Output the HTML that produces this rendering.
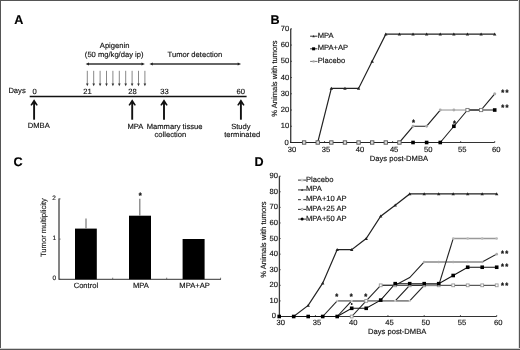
<!DOCTYPE html>
<html><head><meta charset="utf-8"><title>Figure</title>
<style>
html,body{margin:0;padding:0;background:#fff;}
body{width:520px;height:350px;overflow:hidden;}
svg{display:block;}
text{font-family:"Liberation Sans", Arial, sans-serif;stroke:#111;stroke-width:0.15px;text-rendering:geometricPrecision;}
</style></head>
<body>
<svg width="520" height="350" viewBox="0 0 520 350">
<rect x="0" y="0" width="520" height="350" fill="#fff"/>
<text x="14.20" y="23.80" font-size="12.6" text-anchor="start" font-weight="bold" fill="#000" >A</text>
<text x="8.40" y="92.70" font-size="7.6" text-anchor="start" font-weight="normal" fill="#111" >Days</text>
<text x="34.50" y="93.50" font-size="7.6" text-anchor="middle" font-weight="normal" fill="#111" >0</text>
<text x="87.50" y="93.50" font-size="7.6" text-anchor="middle" font-weight="normal" fill="#111" >21</text>
<text x="132.60" y="93.50" font-size="7.6" text-anchor="middle" font-weight="normal" fill="#111" >28</text>
<text x="164.40" y="93.50" font-size="7.6" text-anchor="middle" font-weight="normal" fill="#111" >33</text>
<text x="240.70" y="93.50" font-size="7.6" text-anchor="middle" font-weight="normal" fill="#111" >60</text>
<line x1="29.70" y1="96.60" x2="246.60" y2="96.60" stroke="#111" stroke-width="1.5" />
<line x1="34.10" y1="102.30" x2="34.10" y2="119.70" stroke="#111" stroke-width="1.9" />
<path d="M34.10,99.30 L37.80,104.90 L36.70,105.70 L34.10,102.90 L31.50,105.70 L30.40,104.90 Z" fill="#111"/>
<line x1="132.20" y1="102.30" x2="132.20" y2="119.70" stroke="#111" stroke-width="1.9" />
<path d="M132.20,99.30 L135.90,104.90 L134.80,105.70 L132.20,102.90 L129.60,105.70 L128.50,104.90 Z" fill="#111"/>
<line x1="164.00" y1="102.30" x2="164.00" y2="119.70" stroke="#111" stroke-width="1.9" />
<path d="M164.00,99.30 L167.70,104.90 L166.60,105.70 L164.00,102.90 L161.40,105.70 L160.30,104.90 Z" fill="#111"/>
<line x1="240.90" y1="102.30" x2="240.90" y2="119.70" stroke="#111" stroke-width="1.9" />
<path d="M240.90,99.30 L244.60,104.90 L243.50,105.70 L240.90,102.90 L238.30,105.70 L237.20,104.90 Z" fill="#111"/>
<text x="38.80" y="128.40" font-size="7.6" text-anchor="middle" font-weight="normal" fill="#111" >DMBA</text>
<text x="135.50" y="128.60" font-size="7.6" text-anchor="middle" font-weight="normal" fill="#111" >MPA</text>
<text x="174.60" y="128.60" font-size="7.6" text-anchor="middle" font-weight="normal" fill="#111" >Mammary tissue</text>
<text x="170.40" y="136.50" font-size="7.6" text-anchor="middle" font-weight="normal" fill="#111" >collection</text>
<text x="240.90" y="128.60" font-size="7.6" text-anchor="middle" font-weight="normal" fill="#111" >Study</text>
<text x="242.20" y="136.80" font-size="7.6" text-anchor="middle" font-weight="normal" fill="#111" >terminated</text>
<text x="114.60" y="48.20" font-size="7.6" text-anchor="middle" font-weight="normal" fill="#111" >Apigenin</text>
<text x="114.20" y="56.70" font-size="7.6" text-anchor="middle" font-weight="normal" fill="#111" >(50 mg/kg/day ip)</text>
<text x="194.90" y="56.70" font-size="7.6" text-anchor="middle" font-weight="normal" fill="#111" >Tumor detection</text>
<line x1="87.60" y1="64.00" x2="142.90" y2="64.00" stroke="#333" stroke-width="1.3" />
<path d="M85.60,64.00 L89.00,62.40 L89.00,65.60 Z" fill="#222"/>
<path d="M144.90,64.00 L141.50,62.40 L141.50,65.60 Z" fill="#222"/>
<line x1="151.40" y1="64.00" x2="239.10" y2="64.00" stroke="#333" stroke-width="1.3" />
<path d="M149.40,64.00 L152.80,62.40 L152.80,65.60 Z" fill="#222"/>
<path d="M241.10,64.00 L237.70,62.40 L237.70,65.60 Z" fill="#222"/>
<line x1="87.30" y1="70.80" x2="87.30" y2="84.50" stroke="#888" stroke-width="1.0" />
<path d="M86.00,83.40 L87.30,86.30 L88.60,83.40 Z" fill="#333"/>
<line x1="93.70" y1="70.80" x2="93.70" y2="84.50" stroke="#888" stroke-width="1.0" />
<path d="M92.40,83.40 L93.70,86.30 L95.00,83.40 Z" fill="#333"/>
<line x1="100.10" y1="70.80" x2="100.10" y2="84.50" stroke="#888" stroke-width="1.0" />
<path d="M98.80,83.40 L100.10,86.30 L101.40,83.40 Z" fill="#333"/>
<line x1="106.50" y1="70.80" x2="106.50" y2="84.50" stroke="#888" stroke-width="1.0" />
<path d="M105.20,83.40 L106.50,86.30 L107.80,83.40 Z" fill="#333"/>
<line x1="112.90" y1="70.80" x2="112.90" y2="84.50" stroke="#888" stroke-width="1.0" />
<path d="M111.60,83.40 L112.90,86.30 L114.20,83.40 Z" fill="#333"/>
<line x1="119.30" y1="70.80" x2="119.30" y2="84.50" stroke="#888" stroke-width="1.0" />
<path d="M118.00,83.40 L119.30,86.30 L120.60,83.40 Z" fill="#333"/>
<line x1="125.70" y1="70.80" x2="125.70" y2="84.50" stroke="#888" stroke-width="1.0" />
<path d="M124.40,83.40 L125.70,86.30 L127.00,83.40 Z" fill="#333"/>
<line x1="132.10" y1="70.80" x2="132.10" y2="84.50" stroke="#888" stroke-width="1.0" />
<path d="M130.80,83.40 L132.10,86.30 L133.40,83.40 Z" fill="#333"/>
<line x1="138.50" y1="70.80" x2="138.50" y2="84.50" stroke="#888" stroke-width="1.0" />
<path d="M137.20,83.40 L138.50,86.30 L139.80,83.40 Z" fill="#333"/>
<line x1="144.90" y1="70.80" x2="144.90" y2="84.50" stroke="#888" stroke-width="1.0" />
<path d="M143.60,83.40 L144.90,86.30 L146.20,83.40 Z" fill="#333"/>
<text x="13.60" y="165.50" font-size="12.6" text-anchor="start" font-weight="bold" fill="#000" >C</text>
<line x1="59.00" y1="198.40" x2="59.00" y2="279.80" stroke="#777" stroke-width="1.8" />
<line x1="59.00" y1="279.30" x2="221.00" y2="279.30" stroke="#333" stroke-width="1" />
<line x1="59.00" y1="279.30" x2="60.60" y2="279.30" stroke="#555" stroke-width="0.8" />
<line x1="59.00" y1="239.10" x2="60.60" y2="239.10" stroke="#555" stroke-width="0.8" />
<line x1="59.00" y1="198.90" x2="60.60" y2="198.90" stroke="#555" stroke-width="0.8" />
<line x1="112.70" y1="279.30" x2="112.70" y2="277.70" stroke="#555" stroke-width="0.8" />
<line x1="166.70" y1="279.30" x2="166.70" y2="277.70" stroke="#555" stroke-width="0.8" />
<line x1="220.60" y1="279.30" x2="220.60" y2="277.70" stroke="#555" stroke-width="0.8" />
<text x="54.10" y="200.30" font-size="6.5" text-anchor="middle" font-weight="normal" fill="#222" >2</text>
<text x="54.30" y="240.10" font-size="6.5" text-anchor="middle" font-weight="normal" fill="#222" >1</text>
<text x="54.20" y="280.30" font-size="6.5" text-anchor="middle" font-weight="normal" fill="#222" >0</text>
<rect x="75.00" y="228.60" width="21.80" height="50.70" fill="#000" />
<rect x="129.00" y="215.70" width="22.00" height="63.60" fill="#000" />
<rect x="182.60" y="239.00" width="22.00" height="40.30" fill="#000" />
<line x1="86.00" y1="218.60" x2="86.00" y2="228.60" stroke="#777" stroke-width="1.2" />
<line x1="139.80" y1="198.80" x2="139.80" y2="215.70" stroke="#777" stroke-width="1.2" />
<text x="140.24" y="197.60" font-size="7.6" font-weight="bold" text-anchor="middle" fill="#111" style="stroke-width:0.35px">*</text>
<text x="85.90" y="288.30" font-size="7.6" text-anchor="middle" font-weight="normal" fill="#111" >Control</text>
<text x="140.90" y="288.20" font-size="7.6" text-anchor="middle" font-weight="normal" fill="#111" >MPA</text>
<text x="194.60" y="288.20" font-size="7.6" text-anchor="middle" font-weight="normal" fill="#111" >MPA+AP</text>
<text x="0.00" y="0.00" font-size="7.6" text-anchor="middle" font-weight="normal" fill="#222" style="stroke-width:0.12px" transform="translate(46.4,227.6) rotate(-90)">Tumor multiplicity</text>
<text x="270.60" y="23.80" font-size="12.6" text-anchor="start" font-weight="bold" fill="#000" >B</text>
<line x1="290.70" y1="28.80" x2="290.70" y2="143.00" stroke="#444" stroke-width="1.4" />
<line x1="290.50" y1="142.50" x2="494.71" y2="142.50" stroke="#333" stroke-width="1" />
<line x1="290.50" y1="142.50" x2="292.00" y2="142.50" stroke="#333" stroke-width="0.8" />
<text x="288.70" y="144.60" font-size="7.6" text-anchor="end" font-weight="normal" fill="#111" >0</text>
<line x1="290.50" y1="126.26" x2="292.00" y2="126.26" stroke="#333" stroke-width="0.8" />
<text x="289.20" y="128.36" font-size="7.6" text-anchor="end" font-weight="normal" fill="#111" >10</text>
<line x1="290.50" y1="110.02" x2="292.00" y2="110.02" stroke="#333" stroke-width="0.8" />
<text x="289.20" y="112.12" font-size="7.6" text-anchor="end" font-weight="normal" fill="#111" >20</text>
<line x1="290.50" y1="93.78" x2="292.00" y2="93.78" stroke="#333" stroke-width="0.8" />
<text x="289.20" y="95.88" font-size="7.6" text-anchor="end" font-weight="normal" fill="#111" >30</text>
<line x1="290.50" y1="77.54" x2="292.00" y2="77.54" stroke="#333" stroke-width="0.8" />
<text x="289.20" y="79.64" font-size="7.6" text-anchor="end" font-weight="normal" fill="#111" >40</text>
<line x1="290.50" y1="61.30" x2="292.00" y2="61.30" stroke="#333" stroke-width="0.8" />
<text x="289.20" y="63.40" font-size="7.6" text-anchor="end" font-weight="normal" fill="#111" >50</text>
<line x1="290.50" y1="45.06" x2="292.00" y2="45.06" stroke="#333" stroke-width="0.8" />
<text x="289.20" y="47.16" font-size="7.6" text-anchor="end" font-weight="normal" fill="#111" >60</text>
<line x1="290.50" y1="28.82" x2="292.00" y2="28.82" stroke="#333" stroke-width="0.8" />
<text x="289.20" y="30.92" font-size="7.6" text-anchor="end" font-weight="normal" fill="#111" >70</text>
<line x1="290.50" y1="142.50" x2="290.50" y2="141.00" stroke="#333" stroke-width="0.8" />
<text x="292.00" y="151.60" font-size="7.6" text-anchor="middle" font-weight="normal" fill="#111" >30</text>
<line x1="324.54" y1="142.50" x2="324.54" y2="141.00" stroke="#333" stroke-width="0.8" />
<text x="326.04" y="151.60" font-size="7.6" text-anchor="middle" font-weight="normal" fill="#111" >35</text>
<line x1="358.57" y1="142.50" x2="358.57" y2="141.00" stroke="#333" stroke-width="0.8" />
<text x="360.07" y="151.60" font-size="7.6" text-anchor="middle" font-weight="normal" fill="#111" >40</text>
<line x1="392.61" y1="142.50" x2="392.61" y2="141.00" stroke="#333" stroke-width="0.8" />
<text x="394.11" y="151.60" font-size="7.6" text-anchor="middle" font-weight="normal" fill="#111" >45</text>
<line x1="426.64" y1="142.50" x2="426.64" y2="141.00" stroke="#333" stroke-width="0.8" />
<text x="428.14" y="151.60" font-size="7.6" text-anchor="middle" font-weight="normal" fill="#111" >50</text>
<line x1="460.68" y1="142.50" x2="460.68" y2="141.00" stroke="#333" stroke-width="0.8" />
<text x="462.18" y="151.60" font-size="7.6" text-anchor="middle" font-weight="normal" fill="#111" >55</text>
<line x1="494.71" y1="142.50" x2="494.71" y2="141.00" stroke="#333" stroke-width="0.8" />
<text x="496.21" y="151.60" font-size="7.6" text-anchor="middle" font-weight="normal" fill="#111" >60</text>
<text x="398.90" y="160.80" font-size="7.6" text-anchor="middle" font-weight="normal" fill="#111" >Days post-DMBA</text>
<text x="0.00" y="0.00" font-size="7.6" text-anchor="middle" font-weight="normal" fill="#111" transform="translate(277.4,78.6) rotate(-90)">% Animals with tumors</text>
<polyline points="290.50,142.50 304.11,142.50 317.73,142.50 331.34,142.50 344.96,142.50 358.57,142.50 372.18,142.50 385.80,142.50 399.41,142.50 413.03,126.26 426.64,126.26 440.25,110.02" fill="none" stroke="#222" stroke-width="1.2" stroke-linejoin="miter" />
<polyline points="440.25,110.02 453.87,110.02 467.48,110.02" fill="none" stroke="#999" stroke-width="1.1" stroke-linejoin="miter" />
<polyline points="467.48,110.02 481.10,110.02 494.71,93.78" fill="none" stroke="#222" stroke-width="1.2" stroke-linejoin="miter" />
<polyline points="399.41,142.50 413.03,142.50 426.64,142.50 440.25,142.50 453.87,126.26 467.48,110.02 481.10,110.02 494.71,110.02" fill="none" stroke="#222" stroke-width="1.1" stroke-linejoin="miter" />
<polyline points="290.50,142.50 304.11,142.50 317.73,142.50 331.34,88.42 344.96,88.42 358.57,88.42 372.18,61.30 385.80,34.18 399.41,34.18 413.03,34.18 426.64,34.18 440.25,34.18 453.87,34.18 467.48,34.18 481.10,34.18 494.71,34.18" fill="none" stroke="#222" stroke-width="1.2" stroke-linejoin="miter" />
<path d="M316.03,143.86 L317.73,140.80 L319.43,143.86 Z" fill="#222"/>
<path d="M329.64,89.78 L331.34,86.72 L333.04,89.78 Z" fill="#222"/>
<path d="M343.26,89.78 L344.96,86.72 L346.66,89.78 Z" fill="#222"/>
<path d="M356.87,89.78 L358.57,86.72 L360.27,89.78 Z" fill="#222"/>
<path d="M370.48,62.66 L372.18,59.60 L373.88,62.66 Z" fill="#222"/>
<path d="M384.10,35.54 L385.80,32.48 L387.50,35.54 Z" fill="#222"/>
<path d="M397.71,35.54 L399.41,32.48 L401.11,35.54 Z" fill="#222"/>
<path d="M411.33,35.54 L413.03,32.48 L414.73,35.54 Z" fill="#222"/>
<path d="M424.94,35.54 L426.64,32.48 L428.34,35.54 Z" fill="#222"/>
<path d="M438.55,35.54 L440.25,32.48 L441.95,35.54 Z" fill="#222"/>
<path d="M452.17,35.54 L453.87,32.48 L455.57,35.54 Z" fill="#222"/>
<path d="M465.78,35.54 L467.48,32.48 L469.18,35.54 Z" fill="#222"/>
<path d="M479.40,35.54 L481.10,32.48 L482.80,35.54 Z" fill="#222"/>
<path d="M493.01,35.54 L494.71,32.48 L496.41,35.54 Z" fill="#222"/>
<rect x="302.41" y="140.80" width="3.4" height="3.4" fill="#ddd" stroke="#555" stroke-width="0.9"/>
<rect x="316.03" y="140.80" width="3.4" height="3.4" fill="#ddd" stroke="#555" stroke-width="0.9"/>
<rect x="329.64" y="140.80" width="3.4" height="3.4" fill="#ddd" stroke="#555" stroke-width="0.9"/>
<rect x="343.26" y="140.80" width="3.4" height="3.4" fill="#ddd" stroke="#555" stroke-width="0.9"/>
<rect x="356.87" y="140.80" width="3.4" height="3.4" fill="#ddd" stroke="#555" stroke-width="0.9"/>
<rect x="370.48" y="140.80" width="3.4" height="3.4" fill="#ddd" stroke="#555" stroke-width="0.9"/>
<rect x="384.10" y="140.80" width="3.4" height="3.4" fill="#ddd" stroke="#555" stroke-width="0.9"/>
<rect x="397.71" y="140.80" width="3.4" height="3.4" fill="#ddd" stroke="#555" stroke-width="0.9"/>
<circle cx="413.03" cy="126.26" r="1.4" fill="#aaa"/>
<circle cx="426.64" cy="126.26" r="1.4" fill="#aaa"/>
<circle cx="440.25" cy="110.02" r="1.4" fill="#aaa"/>
<circle cx="453.87" cy="110.02" r="1.4" fill="#aaa"/>
<rect x="465.88" y="108.42" width="3.20" height="3.20" fill="#fff" stroke="#777" stroke-width="0.9"/>
<rect x="479.50" y="108.42" width="3.20" height="3.20" fill="#fff" stroke="#777" stroke-width="0.9"/>
<circle cx="494.71" cy="93.78" r="1.5" fill="#aaa"/>
<rect x="411.23" y="140.70" width="3.60" height="3.60" fill="#000" />
<rect x="424.84" y="140.70" width="3.60" height="3.60" fill="#000" />
<rect x="438.45" y="140.70" width="3.60" height="3.60" fill="#000" />
<rect x="452.07" y="124.46" width="3.60" height="3.60" fill="#000" />
<rect x="492.91" y="108.22" width="3.60" height="3.60" fill="#000" />
<text x="413.57" y="125.40" font-size="7.6" font-weight="bold" text-anchor="middle" fill="#111" style="stroke-width:0.35px">*</text>
<text x="454.41" y="125.50" font-size="7.6" font-weight="bold" text-anchor="middle" fill="#111" style="stroke-width:0.35px">*</text>
<text x="502.74" y="95.30" font-size="7.6" font-weight="bold" text-anchor="middle" fill="#111" style="stroke-width:0.35px">*</text>
<text x="506.94" y="95.30" font-size="7.6" font-weight="bold" text-anchor="middle" fill="#111" style="stroke-width:0.35px">*</text>
<text x="502.74" y="110.40" font-size="7.6" font-weight="bold" text-anchor="middle" fill="#111" style="stroke-width:0.35px">*</text>
<text x="506.94" y="110.40" font-size="7.6" font-weight="bold" text-anchor="middle" fill="#111" style="stroke-width:0.35px">*</text>
<line x1="310.10" y1="36.20" x2="317.40" y2="36.20" stroke="#333" stroke-width="1.0" />
<text x="317.70" y="37.55" font-size="7.6" text-anchor="start" font-weight="normal" fill="#111" >MPA</text>
<line x1="310.10" y1="48.80" x2="317.40" y2="48.80" stroke="#333" stroke-width="1.0" />
<text x="317.70" y="50.15" font-size="7.6" text-anchor="start" font-weight="normal" fill="#111" >MPA+AP</text>
<line x1="310.10" y1="61.40" x2="317.40" y2="61.40" stroke="#777" stroke-width="1.0" />
<text x="317.70" y="62.75" font-size="7.6" text-anchor="start" font-weight="normal" fill="#111" >Placebo</text>
<path d="M312.40,37.16 L313.60,35.00 L314.80,37.16 Z" fill="#222"/>
<rect x="312.10" y="47.30" width="3.00" height="3.00" fill="#000" />
<circle cx="313.60" cy="61.40" r="1.2" fill="#aaa"/>
<text x="254.40" y="165.50" font-size="12.6" text-anchor="start" font-weight="bold" fill="#000" >D</text>
<line x1="279.40" y1="176.20" x2="279.40" y2="317.00" stroke="#3a3a3a" stroke-width="1.3" />
<line x1="279.20" y1="316.50" x2="496.70" y2="316.50" stroke="#333" stroke-width="1" />
<line x1="279.20" y1="316.50" x2="280.70" y2="316.50" stroke="#333" stroke-width="0.8" />
<text x="276.10" y="317.90" font-size="7.6" text-anchor="end" font-weight="normal" fill="#111" >0</text>
<line x1="279.20" y1="300.91" x2="280.70" y2="300.91" stroke="#333" stroke-width="0.8" />
<text x="277.90" y="303.01" font-size="7.6" text-anchor="end" font-weight="normal" fill="#111" >10</text>
<line x1="279.20" y1="285.32" x2="280.70" y2="285.32" stroke="#333" stroke-width="0.8" />
<text x="277.90" y="287.42" font-size="7.6" text-anchor="end" font-weight="normal" fill="#111" >20</text>
<line x1="279.20" y1="269.73" x2="280.70" y2="269.73" stroke="#333" stroke-width="0.8" />
<text x="277.90" y="271.83" font-size="7.6" text-anchor="end" font-weight="normal" fill="#111" >30</text>
<line x1="279.20" y1="254.14" x2="280.70" y2="254.14" stroke="#333" stroke-width="0.8" />
<text x="277.90" y="256.24" font-size="7.6" text-anchor="end" font-weight="normal" fill="#111" >40</text>
<line x1="279.20" y1="238.55" x2="280.70" y2="238.55" stroke="#333" stroke-width="0.8" />
<text x="277.90" y="240.65" font-size="7.6" text-anchor="end" font-weight="normal" fill="#111" >50</text>
<line x1="279.20" y1="222.96" x2="280.70" y2="222.96" stroke="#333" stroke-width="0.8" />
<text x="277.90" y="225.06" font-size="7.6" text-anchor="end" font-weight="normal" fill="#111" >60</text>
<line x1="279.20" y1="207.37" x2="280.70" y2="207.37" stroke="#333" stroke-width="0.8" />
<text x="277.90" y="209.47" font-size="7.6" text-anchor="end" font-weight="normal" fill="#111" >70</text>
<line x1="279.20" y1="191.78" x2="280.70" y2="191.78" stroke="#333" stroke-width="0.8" />
<text x="277.90" y="193.88" font-size="7.6" text-anchor="end" font-weight="normal" fill="#111" >80</text>
<line x1="279.20" y1="176.19" x2="280.70" y2="176.19" stroke="#333" stroke-width="0.8" />
<text x="277.90" y="178.29" font-size="7.6" text-anchor="end" font-weight="normal" fill="#111" >90</text>
<line x1="279.20" y1="316.50" x2="279.20" y2="315.00" stroke="#333" stroke-width="0.8" />
<text x="280.70" y="325.40" font-size="7.6" text-anchor="middle" font-weight="normal" fill="#111" >30</text>
<line x1="315.45" y1="316.50" x2="315.45" y2="315.00" stroke="#333" stroke-width="0.8" />
<text x="316.95" y="325.40" font-size="7.6" text-anchor="middle" font-weight="normal" fill="#111" >35</text>
<line x1="351.70" y1="316.50" x2="351.70" y2="315.00" stroke="#333" stroke-width="0.8" />
<text x="353.20" y="325.40" font-size="7.6" text-anchor="middle" font-weight="normal" fill="#111" >40</text>
<line x1="387.95" y1="316.50" x2="387.95" y2="315.00" stroke="#333" stroke-width="0.8" />
<text x="389.45" y="325.40" font-size="7.6" text-anchor="middle" font-weight="normal" fill="#111" >45</text>
<line x1="424.20" y1="316.50" x2="424.20" y2="315.00" stroke="#333" stroke-width="0.8" />
<text x="425.70" y="325.40" font-size="7.6" text-anchor="middle" font-weight="normal" fill="#111" >50</text>
<line x1="460.45" y1="316.50" x2="460.45" y2="315.00" stroke="#333" stroke-width="0.8" />
<text x="461.95" y="325.40" font-size="7.6" text-anchor="middle" font-weight="normal" fill="#111" >55</text>
<line x1="496.70" y1="316.50" x2="496.70" y2="315.00" stroke="#333" stroke-width="0.8" />
<text x="498.20" y="325.40" font-size="7.6" text-anchor="middle" font-weight="normal" fill="#111" >60</text>
<text x="397.20" y="333.70" font-size="7.6" text-anchor="middle" font-weight="normal" fill="#111" >Days post-DMBA</text>
<text x="0.00" y="0.00" font-size="7.6" text-anchor="middle" font-weight="normal" fill="#111" transform="translate(265.9,239.6) rotate(-90)">% Animals with tumors</text>
<polyline points="337.20,316.50 351.70,300.91 366.20,300.91" fill="none" stroke="#222" stroke-width="1.1" stroke-linejoin="miter" />
<polyline points="380.70,285.32 395.20,285.32 409.70,277.52 424.20,261.94" fill="none" stroke="#222" stroke-width="1.1" stroke-linejoin="miter" />
<polyline points="424.20,261.94 438.70,261.94 453.20,261.94 467.70,261.94 482.20,261.94" fill="none" stroke="#888" stroke-width="1.5" stroke-linejoin="miter" />
<polyline points="482.20,261.94 496.70,254.14" fill="none" stroke="#222" stroke-width="1.1" stroke-linejoin="miter" />
<polyline points="351.70,316.50 366.20,300.91 380.70,285.32" fill="none" stroke="#222" stroke-width="1.1" stroke-linejoin="miter" />
<polyline points="380.70,285.32 395.20,285.32 409.70,285.32 424.20,285.32 438.70,285.32 453.20,285.32 467.70,285.32 482.20,285.32 496.70,285.32" fill="none" stroke="#333" stroke-width="1.0" stroke-linejoin="miter" />
<polyline points="395.20,300.91 409.70,285.32 424.20,285.32 438.70,285.32" fill="none" stroke="#222" stroke-width="1.1" stroke-linejoin="miter" />
<polyline points="322.70,316.50 337.20,300.91" fill="none" stroke="#222" stroke-width="1.1" stroke-linejoin="miter" />
<polyline points="409.70,300.91 424.20,285.32" fill="none" stroke="#222" stroke-width="1.1" stroke-linejoin="miter" />
<polyline points="438.70,285.32 453.20,238.55" fill="none" stroke="#222" stroke-width="1.1" stroke-linejoin="miter" />
<polyline points="337.20,300.91 351.70,300.91 366.20,300.91 380.70,300.91 395.20,300.91 409.70,300.91" fill="none" stroke="#888" stroke-width="1.7" stroke-linejoin="miter" />
<polyline points="424.20,285.32 438.70,285.32" fill="none" stroke="#888" stroke-width="1.7" stroke-linejoin="miter" />
<polyline points="453.20,238.55 467.70,238.55 482.20,238.55 496.70,238.55" fill="none" stroke="#999" stroke-width="1.5" stroke-linejoin="miter" />
<polyline points="279.20,316.50 293.70,316.50 308.20,316.50 322.70,316.50 337.20,316.50 351.70,308.30 366.20,308.30 380.70,300.13 395.20,283.68 409.70,283.68 424.20,283.68 438.70,283.68 453.20,275.50 467.70,267.24 482.20,267.24 496.70,267.24" fill="none" stroke="#111" stroke-width="1.1" stroke-linejoin="miter" />
<polyline points="279.20,316.50 293.70,316.50 308.20,305.37 322.70,283.14 337.20,249.62 351.70,249.62 366.20,238.55 380.70,216.26 395.20,205.19 409.70,193.96 424.20,193.96 438.70,193.96 453.20,193.96 467.70,193.96 482.20,193.96 496.70,193.96" fill="none" stroke="#222" stroke-width="1.2" stroke-linejoin="miter" />
<path d="M306.50,306.73 L308.20,303.67 L309.90,306.73 Z" fill="#222"/>
<path d="M321.00,284.50 L322.70,281.44 L324.40,284.50 Z" fill="#222"/>
<path d="M335.50,250.98 L337.20,247.92 L338.90,250.98 Z" fill="#222"/>
<path d="M350.00,250.98 L351.70,247.92 L353.40,250.98 Z" fill="#222"/>
<path d="M364.50,239.91 L366.20,236.85 L367.90,239.91 Z" fill="#222"/>
<path d="M379.00,217.62 L380.70,214.56 L382.40,217.62 Z" fill="#222"/>
<path d="M393.50,206.55 L395.20,203.49 L396.90,206.55 Z" fill="#222"/>
<path d="M408.00,195.32 L409.70,192.26 L411.40,195.32 Z" fill="#222"/>
<path d="M422.50,195.32 L424.20,192.26 L425.90,195.32 Z" fill="#222"/>
<path d="M437.00,195.32 L438.70,192.26 L440.40,195.32 Z" fill="#222"/>
<path d="M451.50,195.32 L453.20,192.26 L454.90,195.32 Z" fill="#222"/>
<path d="M466.00,195.32 L467.70,192.26 L469.40,195.32 Z" fill="#222"/>
<path d="M480.50,195.32 L482.20,192.26 L483.90,195.32 Z" fill="#222"/>
<path d="M495.00,195.32 L496.70,192.26 L498.40,195.32 Z" fill="#222"/>
<circle cx="337.20" cy="300.91" r="1.1" fill="#ccc"/>
<circle cx="351.70" cy="300.91" r="1.1" fill="#ccc"/>
<circle cx="366.20" cy="300.91" r="1.1" fill="#ccc"/>
<circle cx="380.70" cy="300.91" r="1.1" fill="#ccc"/>
<circle cx="395.20" cy="300.91" r="1.1" fill="#ccc"/>
<circle cx="409.70" cy="300.91" r="1.1" fill="#ccc"/>
<circle cx="424.20" cy="285.32" r="1.1" fill="#ccc"/>
<circle cx="438.70" cy="285.32" r="1.1" fill="#ccc"/>
<circle cx="351.70" cy="304.00" r="0.9" fill="#111"/>
<circle cx="453.20" cy="238.55" r="1.3" fill="#bbb"/>
<circle cx="467.70" cy="238.55" r="1.3" fill="#bbb"/>
<circle cx="482.20" cy="238.55" r="1.3" fill="#bbb"/>
<circle cx="496.70" cy="238.55" r="1.3" fill="#bbb"/>
<rect x="350.30" y="315.10" width="2.80" height="2.80" fill="#fff" stroke="#999" stroke-width="0.9"/>
<rect x="364.80" y="299.51" width="2.80" height="2.80" fill="#fff" stroke="#999" stroke-width="0.9"/>
<rect x="379.30" y="283.92" width="2.80" height="2.80" fill="#fff" stroke="#999" stroke-width="0.9"/>
<rect x="393.80" y="283.92" width="2.80" height="2.80" fill="#fff" stroke="#999" stroke-width="0.9"/>
<rect x="408.30" y="283.92" width="2.80" height="2.80" fill="#fff" stroke="#999" stroke-width="0.9"/>
<rect x="422.80" y="283.92" width="2.80" height="2.80" fill="#fff" stroke="#999" stroke-width="0.9"/>
<rect x="437.30" y="283.92" width="2.80" height="2.80" fill="#fff" stroke="#999" stroke-width="0.9"/>
<rect x="451.80" y="283.92" width="2.80" height="2.80" fill="#fff" stroke="#999" stroke-width="0.9"/>
<rect x="466.30" y="283.92" width="2.80" height="2.80" fill="#fff" stroke="#999" stroke-width="0.9"/>
<rect x="480.80" y="283.92" width="2.80" height="2.80" fill="#fff" stroke="#999" stroke-width="0.9"/>
<rect x="495.30" y="283.92" width="2.80" height="2.80" fill="#fff" stroke="#999" stroke-width="0.9"/>
<circle cx="424.20" cy="261.94" r="1.3" fill="#aaa"/>
<circle cx="438.70" cy="261.94" r="1.3" fill="#aaa"/>
<circle cx="453.20" cy="261.94" r="1.3" fill="#aaa"/>
<circle cx="467.70" cy="261.94" r="1.3" fill="#aaa"/>
<circle cx="482.20" cy="261.94" r="1.3" fill="#aaa"/>
<circle cx="496.70" cy="254.14" r="1.3" fill="#aaa"/>
<rect x="277.40" y="314.70" width="3.60" height="3.60" fill="#000" />
<rect x="291.90" y="314.70" width="3.60" height="3.60" fill="#000" />
<rect x="306.40" y="314.70" width="3.60" height="3.60" fill="#000" />
<rect x="320.90" y="314.70" width="3.60" height="3.60" fill="#000" />
<rect x="335.40" y="314.70" width="3.60" height="3.60" fill="#000" />
<rect x="349.90" y="306.50" width="3.60" height="3.60" fill="#000" />
<rect x="364.40" y="306.50" width="3.60" height="3.60" fill="#000" />
<rect x="378.90" y="298.33" width="3.60" height="3.60" fill="#000" />
<rect x="393.40" y="281.88" width="3.60" height="3.60" fill="#000" />
<rect x="407.90" y="281.88" width="3.60" height="3.60" fill="#000" />
<rect x="422.40" y="281.88" width="3.60" height="3.60" fill="#000" />
<rect x="436.90" y="281.88" width="3.60" height="3.60" fill="#000" />
<rect x="451.40" y="273.70" width="3.60" height="3.60" fill="#000" />
<rect x="465.90" y="265.44" width="3.60" height="3.60" fill="#000" />
<rect x="480.40" y="265.44" width="3.60" height="3.60" fill="#000" />
<rect x="494.90" y="265.44" width="3.60" height="3.60" fill="#000" />
<text x="336.84" y="298.90" font-size="7.6" font-weight="bold" text-anchor="middle" fill="#111" style="stroke-width:0.35px">*</text>
<text x="351.34" y="298.90" font-size="7.6" font-weight="bold" text-anchor="middle" fill="#111" style="stroke-width:0.35px">*</text>
<text x="365.84" y="298.90" font-size="7.6" font-weight="bold" text-anchor="middle" fill="#111" style="stroke-width:0.35px">*</text>
<text x="502.54" y="256.30" font-size="7.6" font-weight="bold" text-anchor="middle" fill="#111" style="stroke-width:0.35px">*</text>
<text x="506.74" y="256.30" font-size="7.6" font-weight="bold" text-anchor="middle" fill="#111" style="stroke-width:0.35px">*</text>
<text x="502.54" y="268.90" font-size="7.6" font-weight="bold" text-anchor="middle" fill="#111" style="stroke-width:0.35px">*</text>
<text x="506.74" y="268.90" font-size="7.6" font-weight="bold" text-anchor="middle" fill="#111" style="stroke-width:0.35px">*</text>
<text x="502.54" y="288.20" font-size="7.6" font-weight="bold" text-anchor="middle" fill="#111" style="stroke-width:0.35px">*</text>
<text x="506.74" y="288.20" font-size="7.6" font-weight="bold" text-anchor="middle" fill="#111" style="stroke-width:0.35px">*</text>
<line x1="298.00" y1="180.10" x2="306.20" y2="180.10" stroke="#333" stroke-width="1.0" />
<text x="306.00" y="181.50" font-size="7.6" text-anchor="start" font-weight="normal" fill="#111" >Placebo</text>
<line x1="298.00" y1="189.90" x2="306.20" y2="189.90" stroke="#333" stroke-width="1.0" />
<text x="306.00" y="191.30" font-size="7.6" text-anchor="start" font-weight="normal" fill="#111" >MPA</text>
<line x1="298.00" y1="199.70" x2="306.20" y2="199.70" stroke="#333" stroke-width="1.0" />
<text x="306.00" y="201.10" font-size="7.6" text-anchor="start" font-weight="normal" fill="#111" >MPA+10 AP</text>
<line x1="298.00" y1="209.40" x2="306.20" y2="209.40" stroke="#333" stroke-width="1.0" />
<text x="306.00" y="210.80" font-size="7.6" text-anchor="start" font-weight="normal" fill="#111" >MPA+25 AP</text>
<line x1="298.00" y1="219.10" x2="306.20" y2="219.10" stroke="#333" stroke-width="1.0" />
<text x="306.00" y="220.50" font-size="7.6" text-anchor="start" font-weight="normal" fill="#111" >MPA+50 AP</text>
<rect x="300.80" y="178.80" width="2.6" height="2.6" fill="#ccc"/>
<path d="M300.90,190.86 L302.10,188.70 L303.30,190.86 Z" fill="#222"/>
<rect x="300.90" y="198.50" width="2.4" height="2.4" fill="#fff"/>
<circle cx="302.10" cy="209.4" r="1.1" fill="#fff" stroke="#999" stroke-width="0.7"/>
<circle cx="302.10" cy="219.1" r="1.5" fill="#000"/>
<rect x="0" y="0" width="520" height="1" fill="#555"/>
<rect x="0" y="0" width="1" height="350" fill="#555"/>
<rect x="519" y="0" width="1" height="350" fill="#555"/>
<rect x="518" y="0" width="1" height="350" fill="#e2e2e2"/>
<rect x="0" y="349" width="520" height="1" fill="#555"/>
<rect x="0" y="348" width="520" height="1" fill="#d0d0d0"/>
</svg>
</body></html>
